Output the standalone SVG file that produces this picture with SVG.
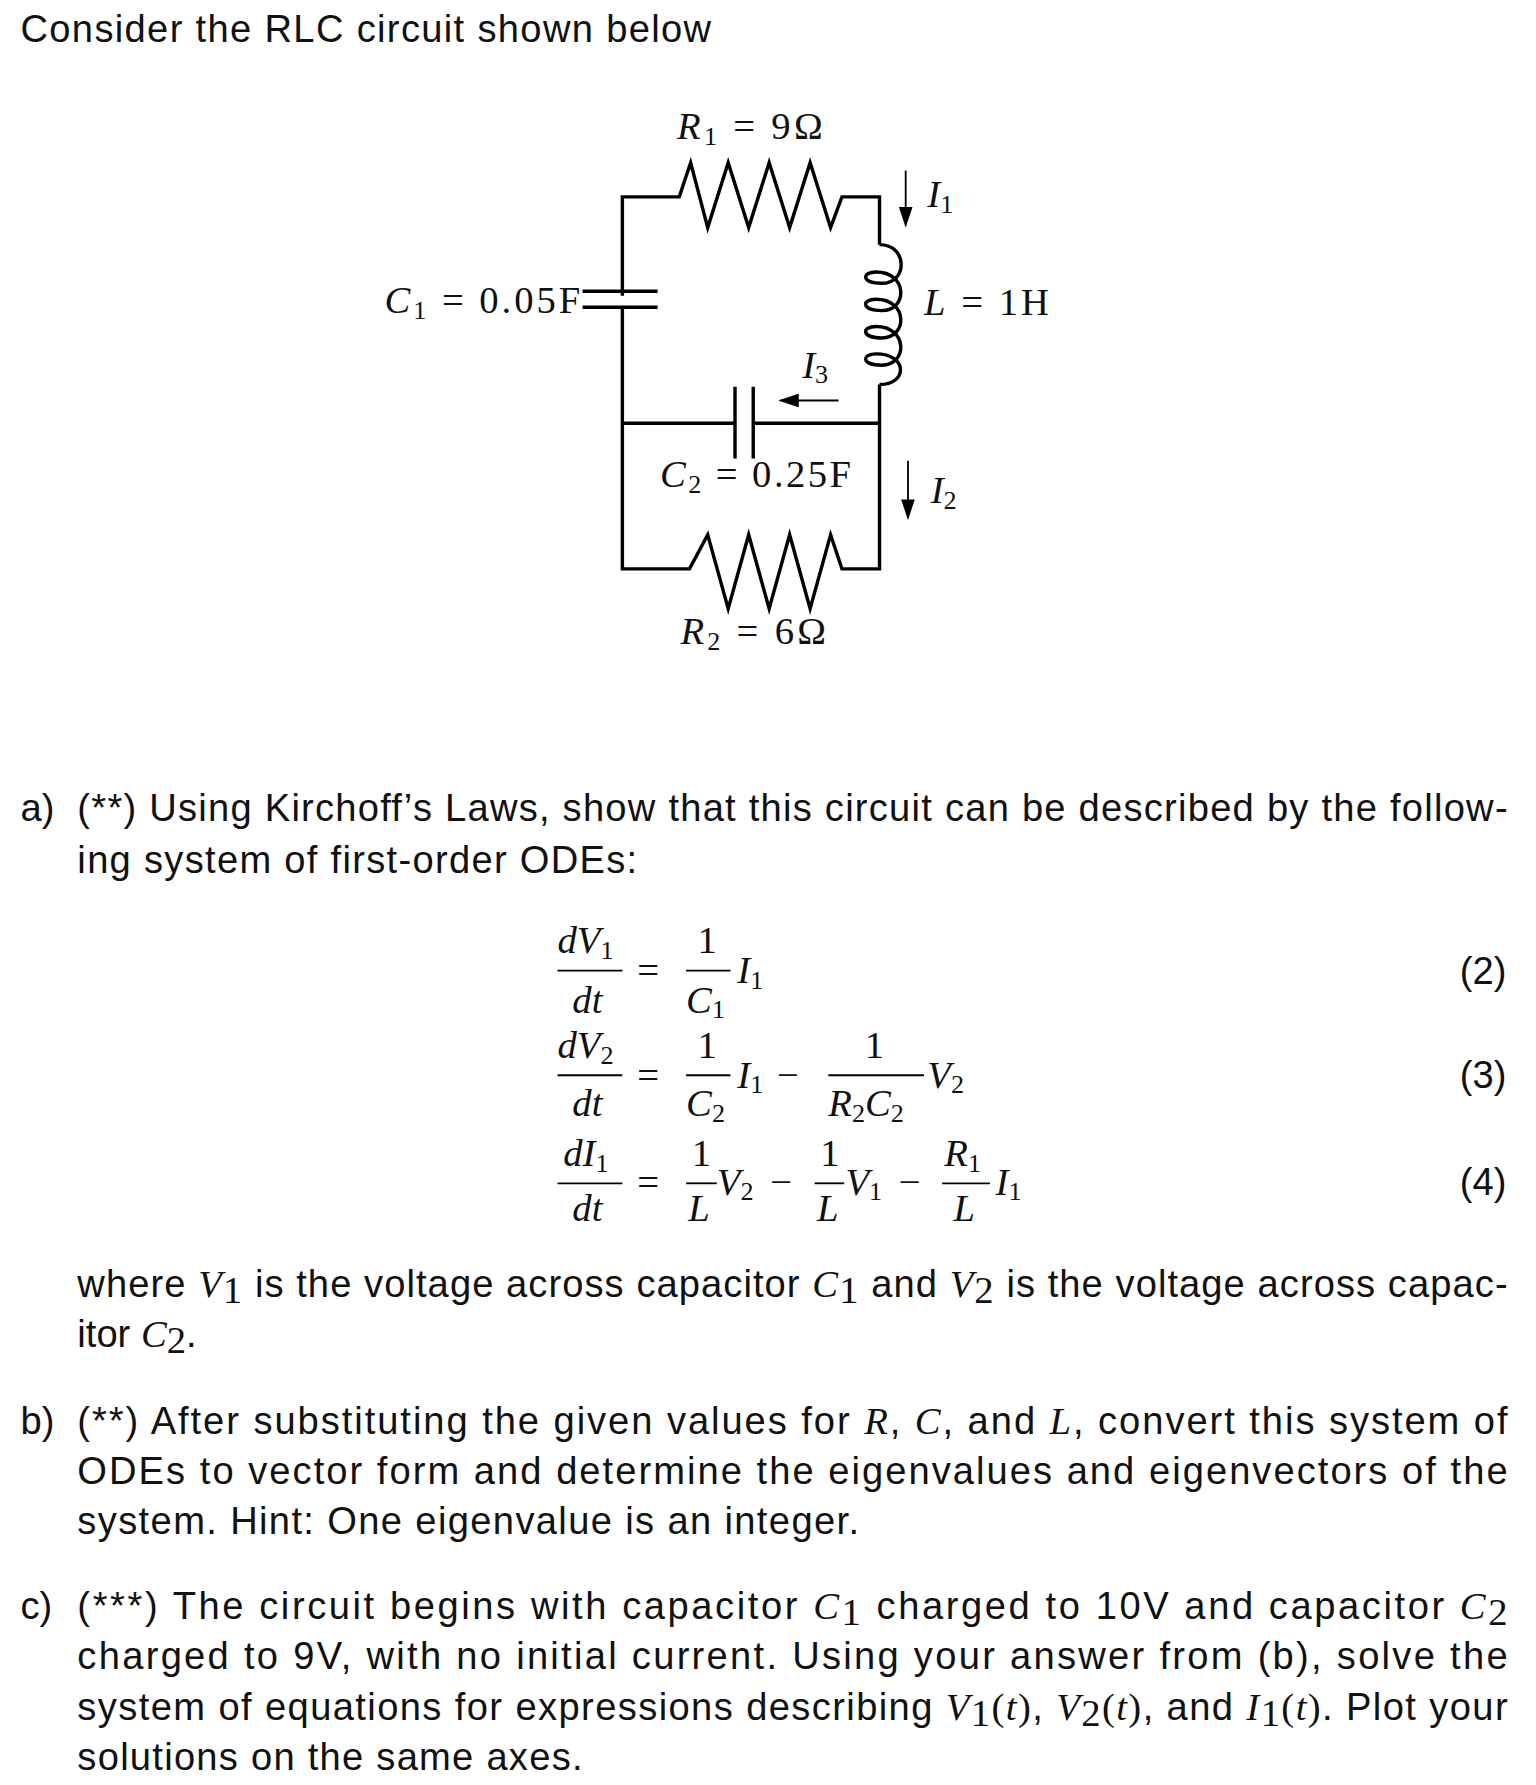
<svg xmlns="http://www.w3.org/2000/svg" width="1536" height="1785" viewBox="0 0 1536 1785">
<style>
.t{font-family:"Liberation Sans",Arial,sans-serif;font-size:33.5px;fill:#111}
.m{font-family:"Liberation Serif","Times New Roman",serif;font-size:34px;fill:#111}
.i{font-style:italic}
.w{fill:none;stroke:#000;stroke-width:3}
.b{stroke:#000;stroke-width:1.6}
</style>
<defs><marker id="ah" viewBox="0 0 18 12" refX="16" refY="6" markerWidth="18" markerHeight="12" markerUnits="userSpaceOnUse" orient="auto"><path d="M0,0L18,6L0,12z" fill="#000"/></marker></defs>
<rect width="1536" height="1785" fill="#fff"/>
<g transform="scale(1.1378)">
<text class="t" x="18" y="37" textLength="607" font-size="33">Consider the RLC circuit shown below</text>
<g id="connectors">
<path class="w" d="M547,260V173H597L607,143L622,200L640,143L658,200L676,143L694,200L712,143L730,200L740,173H773V215"/>
<path class="w" d="M773,338V500H740L730,470L712,535L694,470L676,535L658,470L640,535L622,470L606,500H547V270"/>
<path class="w" d="M547,372H646M662,372H773"/>
<path class="w" d="M773,215C798,215 798,249 775,249C757,249 757,239 770,239C798,239 798,273 775,273C757,273 757,263 770,263C798,263 798,297 775,297C757,297 757,287 770,287C798,287 798,321 775,321C757,321 757,311 770,311C798,311 798,338 773,338"/>
<path d="M796,150V198" stroke="#000" stroke-width="1.6" marker-end="url(#ah)"/>
<path d="M798,405V455" stroke="#000" stroke-width="1.6" marker-end="url(#ah)"/>
<path d="M737,352H686" stroke="#000" stroke-width="1.6" marker-end="url(#ah)"/>
</g>
<g id="C1"><path class="w" d="M512,256H578M512,270H578"/><text class="m" x="338" y="275" textLength="172"><tspan class="i">C</tspan><tspan font-size="23" dy="5">1</tspan><tspan dy="-5"> = 0.05F</tspan></text></g>
<g id="C2"><path class="w" d="M646,340V403M662,340V403"/><text class="m" x="580" y="428" textLength="168"><tspan class="i">C</tspan><tspan font-size="23" dy="5">2</tspan><tspan dy="-5"> = 0.25F</tspan></text></g>
<g id="R1"><text class="m" x="595" y="122" textLength="128"><tspan class="i">R</tspan><tspan font-size="23" dy="5">1</tspan><tspan dy="-5"> = 9Ω</tspan></text></g>
<g id="R2"><text class="m" x="598" y="566" textLength="128"><tspan class="i">R</tspan><tspan font-size="23" dy="5">2</tspan><tspan dy="-5"> = 6Ω</tspan></text></g>
<g id="L"><text class="m" x="812" y="277" textLength="110"><tspan class="i">L</tspan> = 1H</text></g>
<g id="I1"><text class="m" x="815" y="182"><tspan class="i">I</tspan><tspan font-size="23" dy="5">1</tspan></text></g>
<g id="I2"><text class="m" x="818" y="442"><tspan class="i">I</tspan><tspan font-size="23" dy="5">2</tspan></text></g>
<g id="I3"><text class="m" x="705" y="332"><tspan class="i">I</tspan><tspan font-size="23" dy="5">3</tspan></text></g>

<text class="t" x="18" y="722">a)</text>
<text class="t" x="68" y="722" textLength="1257" lengthAdjust="spacing">(**) Using Kirchoff’s Laws, show that this circuit can be described by the follow-</text>
<text class="t" x="68" y="767" textLength="492" lengthAdjust="spacing">ing system of first-order ODEs:</text>

<g>
<text class="m" x="490" y="838"><tspan class="i">dV</tspan><tspan font-size="23" dy="5">1</tspan></text>
<line class="b" x1="490" y1="853" x2="547" y2="853"/>
<text class="m i" x="503" y="890">dt</text>
<text class="m" x="560" y="864">=</text>
<text class="m" x="613" y="838">1</text><line class="b" x1="603" y1="853" x2="642" y2="853"/>
<text class="m" x="603" y="890"><tspan class="i">C</tspan><tspan font-size="23" dy="5">1</tspan></text>
<text class="m" x="648" y="864"><tspan class="i">I</tspan><tspan font-size="23" dy="5">1</tspan></text>
<text class="t" x="1283" y="865">(2)</text>

<text class="m" x="490" y="930"><tspan class="i">dV</tspan><tspan font-size="23" dy="5">2</tspan></text>
<line class="b" x1="490" y1="945" x2="547" y2="945"/>
<text class="m i" x="503" y="981">dt</text>
<text class="m" x="560" y="956">=</text>
<text class="m" x="613" y="930">1</text><line class="b" x1="603" y1="945" x2="642" y2="945"/>
<text class="m" x="603" y="981"><tspan class="i">C</tspan><tspan font-size="23" dy="5">2</tspan></text>
<text class="m" x="648" y="956"><tspan class="i">I</tspan><tspan font-size="23" dy="5">1</tspan></text>
<text class="m" x="683" y="956">−</text>
<text class="m" x="760" y="930">1</text><line class="b" x1="728" y1="945" x2="812" y2="945"/>
<text class="m" x="728" y="981"><tspan class="i">R</tspan><tspan font-size="23" dy="5">2</tspan><tspan class="i" dy="-5">C</tspan><tspan font-size="23" dy="5">2</tspan></text>
<text class="m" x="815" y="956"><tspan class="i">V</tspan><tspan font-size="23" dy="5">2</tspan></text>
<text class="t" x="1283" y="956">(3)</text>

<text class="m" x="495" y="1025"><tspan class="i">dI</tspan><tspan font-size="23" dy="5">1</tspan></text>
<line class="b" x1="490" y1="1040" x2="547" y2="1040"/>
<text class="m i" x="503" y="1073">dt</text>
<text class="m" x="560" y="1050">=</text>
<text class="m" x="608" y="1025">1</text><line class="b" x1="603" y1="1040" x2="630" y2="1040"/>
<text class="m i" x="605" y="1073">L</text>
<text class="m" x="630" y="1050"><tspan class="i">V</tspan><tspan font-size="23" dy="5">2</tspan></text>
<text class="m" x="677" y="1050">−</text>
<text class="m" x="721" y="1025">1</text><line class="b" x1="716" y1="1040" x2="742" y2="1040"/>
<text class="m i" x="718" y="1073">L</text>
<text class="m" x="743" y="1050"><tspan class="i">V</tspan><tspan font-size="23" dy="5">1</tspan></text>
<text class="m" x="790" y="1050">−</text>
<text class="m" x="830" y="1025"><tspan class="i">R</tspan><tspan font-size="23" dy="5">1</tspan></text><line class="b" x1="828" y1="1040" x2="870" y2="1040"/>
<text class="m i" x="838" y="1073">L</text>
<text class="m" x="875" y="1050"><tspan class="i">I</tspan><tspan font-size="23" dy="5">1</tspan></text>
<text class="t" x="1283" y="1050">(4)</text>
</g>

<text class="t" x="68" y="1140" textLength="1257" lengthAdjust="spacing">where <tspan class="m i">V</tspan><tspan class="m" font-size="23" dy="5">1</tspan><tspan dy="-5"> is the voltage across capacitor </tspan><tspan class="m i">C</tspan><tspan class="m" font-size="23" dy="5">1</tspan><tspan dy="-5"> and </tspan><tspan class="m i">V</tspan><tspan class="m" font-size="23" dy="5">2</tspan><tspan dy="-5"> is the voltage across capac-</tspan></text>
<text class="t" x="68" y="1184">itor <tspan class="m i">C</tspan><tspan class="m" font-size="23" dy="5">2</tspan><tspan dy="-5">.</tspan></text>

<text class="t" x="18" y="1260">b)</text>
<text class="t" x="68" y="1260" textLength="1257" lengthAdjust="spacing">(**) After substituting the given values for <tspan class="m i">R</tspan>, <tspan class="m i">C</tspan>, and <tspan class="m i">L</tspan>, convert this system of</text>
<text class="t" x="68" y="1304" textLength="1257" lengthAdjust="spacing">ODEs to vector form and determine the eigenvalues and eigenvectors of the</text>
<text class="t" x="68" y="1348" textLength="687" lengthAdjust="spacing">system. Hint: One eigenvalue is an integer.</text>

<text class="t" x="18" y="1423">c)</text>
<text class="t" x="68" y="1423" textLength="1257" lengthAdjust="spacing">(***) The circuit begins with capacitor <tspan class="m i">C</tspan><tspan class="m" font-size="23" dy="5">1</tspan><tspan dy="-5"> charged to 10V and capacitor </tspan><tspan class="m i">C</tspan><tspan class="m" font-size="23" dy="5">2</tspan></text>
<text class="t" x="68" y="1467" textLength="1257" lengthAdjust="spacing">charged to 9V, with no initial current.  Using your answer from (b), solve the</text>
<text class="t" x="68" y="1512" textLength="1257" lengthAdjust="spacing">system of equations for expressions describing <tspan class="m i">V</tspan><tspan class="m" font-size="23" dy="5">1</tspan><tspan class="m" dy="-5">(</tspan><tspan class="m i">t</tspan><tspan class="m">)</tspan>, <tspan class="m i">V</tspan><tspan class="m" font-size="23" dy="5">2</tspan><tspan class="m" dy="-5">(</tspan><tspan class="m i">t</tspan><tspan class="m">)</tspan>, and <tspan class="m i">I</tspan><tspan class="m" font-size="23" dy="5">1</tspan><tspan class="m" dy="-5">(</tspan><tspan class="m i">t</tspan><tspan class="m">)</tspan>. Plot your</text>
<text class="t" x="68" y="1556" textLength="444" lengthAdjust="spacing">solutions on the same axes.</text>
</g>
</svg>
